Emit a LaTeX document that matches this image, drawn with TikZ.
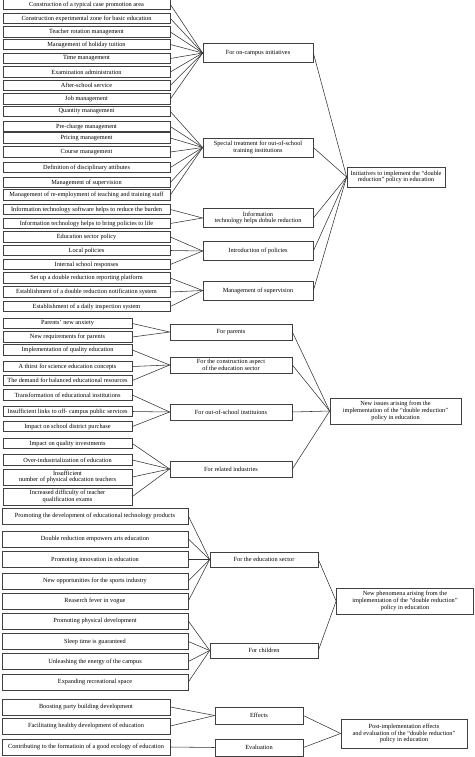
\documentclass[tikz,border=0pt]{standalone}
\usepackage{fontspec}
\setmainfont{Liberation Serif}
\tikzset{
item/.style={
  rectangle,
  draw=black!75,
  line width=0.7pt,
  align=center,
  inner sep=0.3pt,
  font=\fontsize{6.3}{6.8}\selectfont,
  minimum height=10.5pt},
itemA/.style={item, minimum width=167pt},
itemB/.style={item, minimum width=129pt},
itemC/.style={item, minimum width=186pt, minimum height=16pt},
itemD/.style={item, minimum width=168pt, minimum height=16pt},
group/.style={item, minimum height=19pt},
topic/.style={item, minimum height=26pt},
line/.style={draw, black!80, line width=0.55pt}
}
\begin{document}
\begin{tikzpicture}[x=1pt,y=-1pt]
    \useasboundingbox (0,0) rectangle (474,757);
    % initiatives
    \node [itemA] (a1) at (86.5,4.5) {Construction of a typical case promotion area};
    \node [itemA] (a2) at (86.5,18.5) {Construction experimental zone for basic education};
    \node [itemA] (a3) at (86.5,32) {Teacher rotation management};
    \node [itemA] (a4) at (86.5,44.5) {Management of holiday tuition};
    \node [itemA] (a5) at (86.5,58.5) {Time management};
    \node [itemA] (a6) at (86.5,72) {Examination administration};
    \node [itemA] (a7) at (86.5,85.5) {After-school service};
    \node [itemA] (a8) at (86.5,99) {Job management};
    \node [itemA] (a9) at (86.5,111.5) {Quantity management};
    \node [itemA] (a10) at (86.5,126.5) {Pre-charge management};
    \node [itemA] (a11) at (86.5,138) {Pricing management};
    \node [itemA] (a12) at (86.5,152) {Course management};
    \node [itemA] (a13) at (86.5,167.5) {Definition of disciplinary attibutes};
    \node [itemA] (a14) at (86.5,182.5) {Management of supervision};
    \node [itemA] (a15) at (86.5,195) {Management of re-employment of teaching and training staff};
    \node [itemA] (a16) at (86.5,209.5) {Information technology software helps to reduce the burden};
    \node [itemA] (a17) at (86.5,223.5) {Information technology helps to bring policies to life};
    \node [itemA] (a18) at (86.5,237) {Education sector policy};
    \node [itemA] (a19) at (86.5,250.5) {Local policies};
    \node [itemA] (a20) at (86.5,264.5) {Internal school responses};
    \node [itemA] (a21) at (86.5,278) {Set up a double reduction reporting platform};
    \node [itemA] (a22) at (86.5,292) {Establishment of a double reduction notification system};
    \node [itemA] (a23) at (86.5,306.5) {Establishment of a daily inspection system};
    \node [group, minimum width=110pt] (g1) at (258,53) {For on-campus initiatives};
    \node [group, minimum width=110pt] (g2) at (258,147.5) {Special treatment for out-of-school\\training institutions};
    \node [group, minimum width=110pt] (g3) at (258,218) {Information\\technology helps dobule reduction};
    \node [group, minimum width=110pt] (g4) at (258,251) {Introduction of policies};
    \node [group, minimum width=110pt] (g5) at (258,290.5) {Management of supervision};
    \node [group, minimum width=98pt, minimum height=20pt] (r1) at (396,177) {Initiatives to implement the ``double\\reduction'' policy in education};
    % new issues
    \node [itemB] (b1) at (67.5,323.5) {Parents' new anxiety};
    \node [itemB] (b2) at (67.5,337) {New requirements for parents};
    \node [itemB] (b3) at (67.5,350) {Implementation of quality education};
    \node [itemB] (b4) at (67.5,366.5) {A thirst for science education concepts};
    \node [itemB] (b5) at (67.5,380.5) {The demand for balanced educational resources};
    \node [itemB] (b6) at (67.5,395) {Transformation of educational institutions};
    \node [itemB] (b7) at (67.5,411.5) {Insufficient links to off- campus public services};
    \node [itemB] (b8) at (67.5,426.5) {Impact on school district purchase};
    \node [itemB] (b9) at (67.5,443.5) {Impact on quality investments};
    \node [itemB] (b10) at (67.5,460) {Over-industrialization of education};
    \node [itemB, minimum height=16pt] (b11) at (67.5,477) {Insufficient\\number of physical education teachers};
    \node [itemB, minimum height=17pt] (b12) at (67.5,496.5) {Increased difficulty of teacher\\qualification exams};
    \node [group, minimum width=122pt, minimum height=16pt] (h1) at (231,332) {For parents};
    \node [group, minimum width=122pt, minimum height=16pt] (h2) at (231,365) {For the construction aspect\\of the education sector};
    \node [group, minimum width=122pt, minimum height=16pt] (h3) at (231,412) {For out-of-school instituions};
    \node [group, minimum width=122pt, minimum height=16pt] (h4) at (231,469) {For related industries};
    \node [topic, minimum width=131pt] (r2) at (395.5,411) {New issues arising from the\\implementation of the ``double reduction''\\policy in education};
    % new phenomena
    \node [itemC] (c1) at (95,516) {Promoting the development of educational technology products};
    \node [itemC] (c2) at (95,539) {Double reduction empowers arts education};
    \node [itemC] (c3) at (95,559.5) {Promoting innovation in education};
    \node [itemC] (c4) at (95,581) {New opportunities for the sports industry};
    \node [itemC] (c5) at (95,601) {Reaserch fever in vogue};
    \node [itemC] (c6) at (95,621) {Promoting physical development};
    \node [itemC] (c7) at (95,641.5) {Sleep time is guaranteed};
    \node [itemC] (c8) at (95,661.5) {Unleashing the energy of the campus};
    \node [itemC] (c9) at (95,682) {Expanding recreational space};
    \node [group, minimum width=108pt, minimum height=15pt] (k1) at (264,559.5) {For the education sector};
    \node [group, minimum width=108pt, minimum height=15pt] (k2) at (264,650.5) {For children};
    \node [topic, minimum width=137pt] (r3) at (405,601) {New phenomena arising from the\\implementation of the ``double reduction''\\policy in education};
    % post-implementation
    \node [itemD] (d1) at (86,707) {Boosting party building development};
    \node [itemD] (d2) at (86,726) {Facilitating healthy development of education};
    \node [itemD] (d3) at (86,747) {Contributing to the formatioin of a good ecology of education};
    \node [group, minimum width=88pt, minimum height=17pt] (e1) at (259,715.5) {Effects};
    \node [group, minimum width=88pt, minimum height=17pt] (e2) at (259,747.5) {Evaluation};
    \node [topic, minimum width=126pt, minimum height=29pt] (r4) at (404,733.5) {Post-implementation effects\\and evaluation of the ``double reduction''\\policy in education};
    \path [line] (a1.east) -- (g1.west);
    \path [line] (a2.east) -- (g1.west);
    \path [line] (a3.east) -- (g1.west);
    \path [line] (a4.east) -- (g1.west);
    \path [line] (a5.east) -- (g1.west);
    \path [line] (a6.east) -- (g1.west);
    \path [line] (a7.east) -- (g1.west);
    \path [line] (a8.east) -- (g1.west);
    \path [line] (a9.east) -- (g2.west);
    \path [line] (a10.east) -- (g2.west);
    \path [line] (a11.east) -- (g2.west);
    \path [line] (a12.east) -- (g2.west);
    \path [line] (a13.east) -- (g2.west);
    \path [line] (a14.east) -- (g2.west);
    \path [line] (a15.east) -- (g2.west);
    \path [line] (a16.east) -- (g3.west);
    \path [line] (a17.east) -- (g3.west);
    \path [line] (a18.east) -- (g4.west);
    \path [line] (a19.east) -- (g4.west);
    \path [line] (a20.east) -- (g4.west);
    \path [line] (a21.east) -- (g5.west);
    \path [line] (a22.east) -- (g5.west);
    \path [line] (a23.east) -- (g5.west);
    \path [line] (g1.east) -- (r1.west);
    \path [line] (g2.east) -- (r1.west);
    \path [line] (g3.east) -- (r1.west);
    \path [line] (g4.east) -- (r1.west);
    \path [line] (g5.east) -- (r1.west);
    \path [line] (b1.east) -- (h1.west);
    \path [line] (b2.east) -- (h1.west);
    \path [line] (b3.east) -- (h2.west);
    \path [line] (b4.east) -- (h2.west);
    \path [line] (b5.east) -- (h2.west);
    \path [line] (b6.east) -- (h3.west);
    \path [line] (b7.east) -- (h3.west);
    \path [line] (b8.east) -- (h3.west);
    \path [line] (b9.east) -- (h4.west);
    \path [line] (b10.east) -- (h4.west);
    \path [line] (b11.east) -- (h4.west);
    \path [line] (b12.east) -- (h4.west);
    \path [line] (h1.east) -- (r2.west);
    \path [line] (h2.east) -- (r2.west);
    \path [line] (h3.east) -- (r2.west);
    \path [line] (h4.east) -- (r2.west);
    \path [line] (c1.east) -- (k1.west);
    \path [line] (c2.east) -- (k1.west);
    \path [line] (c3.east) -- (k1.west);
    \path [line] (c4.east) -- (k1.west);
    \path [line] (c5.east) -- (k1.west);
    \path [line] (c6.east) -- (k2.west);
    \path [line] (c7.east) -- (k2.west);
    \path [line] (c8.east) -- (k2.west);
    \path [line] (c9.east) -- (k2.west);
    \path [line] (k1.east) -- (r3.west);
    \path [line] (k2.east) -- (r3.west);
    \path [line] (d1.east) -- (e1.west);
    \path [line] (d2.east) -- (e1.west);
    \path [line] (d3.east) -- (e2.west);
    \path [line] (e1.east) -- (r4.west);
    \path [line] (e2.east) -- (r4.west);
\end{tikzpicture}
\end{document}
